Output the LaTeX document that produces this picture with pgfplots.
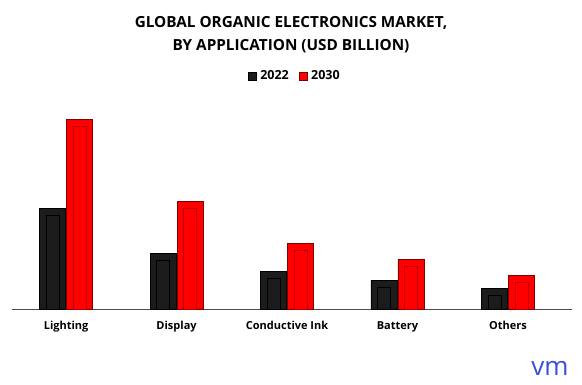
\documentclass[border=0pt]{standalone}
\usepackage{pgfplots}
\pgfplotsset{compat=1.18}
\usepackage{fontspec}
\setmainfont{Open Sans}
\definecolor{barblack}{HTML}{1C1C1C}
\definecolor{barred}{HTML}{FF0000}
\definecolor{darkred}{HTML}{800000}
\definecolor{innerred}{HTML}{C00000}
\definecolor{logoblue}{HTML}{3B4FD8}
\begin{document}
\begin{tikzpicture}[x=1pt,y=1pt]
\useasboundingbox (0,0) rectangle (582,384);
\node[font=\bfseries\fontsize{15.3}{17}\selectfont] at (291,361) {GLOBAL ORGANIC ELECTRONICS MARKET,};
\node[font=\bfseries\fontsize{15.3}{17}\selectfont] at (291,338) {BY APPLICATION (USD BILLION)};
\begin{axis}[
  at={(12pt,75pt)}, anchor=south west,
  width=560pt, height=220pt, scale only axis,
  xmin=-0.49, xmax=4.58, ymin=0, ymax=220,
  axis y line=none, axis x line*=bottom,
  x axis line style={draw=black!70, line width=0.8pt, -},
  xtick={0,1,2,3,4},
  xticklabels={Lighting,Display,Conductive Ink,Battery,Others},
  major tick length=0pt,
  xticklabel style={font=\bfseries\fontsize{11}{13}\selectfont, yshift=-9pt},
  ybar, bar width=26pt,
  legend columns=2,
  legend style={at={(0.505,1.06)}, anchor=center, draw=none, fill=none,
    font=\bfseries\fontsize{12.5}{14}\selectfont,
    /tikz/every odd column/.append style={column sep=2pt},
    /tikz/every even column/.append style={column sep=8pt}},
]
\addplot[fill=barblack, draw=black, bar shift=-13.5pt,
  legend image code/.code={\draw[fill=barblack,draw=black] (0pt,-4.5pt) rectangle (8pt,4pt);}]
  coordinates {(0,101) (1,56) (2,38) (3,29) (4,21)};
\addlegendentry{2022}
\addplot[fill=barred, draw=darkred, bar shift=13.5pt,
  legend image code/.code={\draw[fill=barred,draw=darkred] (0pt,-4.5pt) rectangle (8pt,4pt);}]
  coordinates {(0,190) (1,108) (2,66) (3,50) (4,34)};
\addlegendentry{2030}
\addplot[fill=none, draw=black, bar width=13pt, bar shift=-13.5pt, forget plot]
  coordinates {(0,94) (1,49) (2,31) (3,22) (4,14)};
\addplot[fill=none, draw=innerred, bar width=13pt, bar shift=13.5pt, forget plot]
  coordinates {(0,183) (1,101) (2,59) (3,43) (4,27)};
\end{axis}
\node[font=\fontsize{26}{28}\selectfont, text=logoblue] at (550,16) {vm};
\end{tikzpicture}
\end{document}
